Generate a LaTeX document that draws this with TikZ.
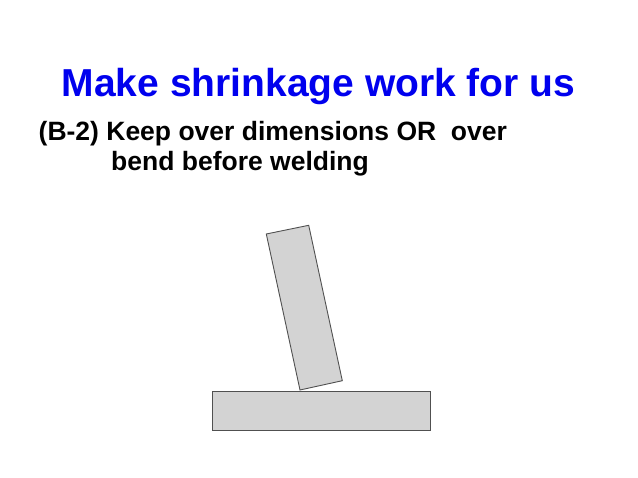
\documentclass[tikz,border=0pt]{standalone}
\usepackage{fontspec}
\setmainfont{Liberation Sans}
\definecolor{titleblue}{RGB}{0,0,238}
\definecolor{platefill}{RGB}{211,211,211}
\definecolor{plateline}{RGB}{80,80,80}
\tikzset{
    plate/.style={fill=platefill, draw=plateline, line width=0.9pt},
    titletext/.style={font=\fontsize{39}{44}\selectfont\bfseries, text=titleblue, inner sep=0pt, anchor=base},
    bodytext/.style={font=\fontsize{26.5}{30}\selectfont\bfseries, inner sep=0pt, anchor=base west}
}
\begin{document}
\begin{tikzpicture}[x=1pt, y=-1pt]
        \useasboundingbox (0,0) rectangle (638,478);

        % Heading
        \node[titletext] (title) at (318.5,97) {Make shrinkage work for us};
        \node[bodytext] (line1) at (38.5,140.5) {(B-2) Keep over dimensions OR\ \ over};
        \node[bodytext] (line2) at (111,170.5) {bend before welding};

        % Tilted plate
        \filldraw[plate] (266.3,234) -- (308.7,225.3) -- (342.3,380.7) -- (300,390) -- cycle;

        % Base plate
        \filldraw[plate] (212.3,391) rectangle (430.7,430);
    \end{tikzpicture}
\end{document}
